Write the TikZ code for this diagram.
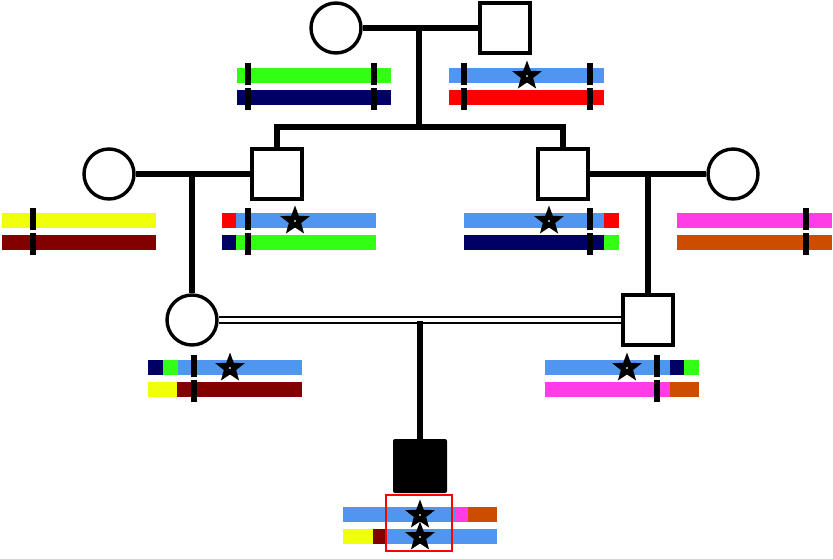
\documentclass[tikz,border=0pt]{standalone}
\usetikzlibrary{shapes.geometric}

\definecolor{cgreen}{RGB}{50,255,20}
\definecolor{cnavy}{RGB}{0,0,100}
\definecolor{cblue}{RGB}{80,150,240}
\definecolor{cred}{RGB}{255,0,0}
\definecolor{cyellow}{RGB}{240,255,10}
\definecolor{cmaroon}{RGB}{130,0,0}
\definecolor{cmagenta}{RGB}{255,60,230}
\definecolor{corange}{RGB}{204,76,0}

% black marker across both bands of a pair
\newcommand{\locus}[2]{%
  \fill (#1-2.6,#2-5) rectangle (#1+2.6,#2+16.5);
  \fill (#1-2.6,#2+20) rectangle (#1+2.6,#2+42);}

\begin{document}
\begin{tikzpicture}[x=1pt,y=-1pt,
    female/.style={circle,draw,line width=3.4pt,minimum size=50pt,inner sep=0pt},
    male/.style={rectangle,draw,line width=3.4pt,minimum size=50pt,inner sep=0pt},
    affected/.style={rectangle,fill=black,rounded corners=2pt,minimum size=54pt,inner sep=0pt},
    kin/.style={line width=5.2pt},
    mut/.style={star,star points=5,star point ratio=2.4,fill=black,minimum size=31pt,inner sep=0pt}]
  \useasboundingbox (0,0) rectangle (833,558);

  % pedigree
  \path (336,28)  node[female] (gm1) {}
        (505,28)  node[male]   (gf1) {}
        (109,174) node[female] (gm2) {}
        (277,174) node[male]   (fa2) {}
        (563,174) node[male]   (fa3) {}
        (733,174) node[female] (gm3) {}
        (192,320) node[female] (mo4) {}
        (648,320) node[male]   (fa4) {}
        (420,466) node[affected] (pro) {};
  \coordinate (m1) at (419,28);
  \coordinate (s1) at (419,127);
  \coordinate (m2) at (192,174);
  \coordinate (m3) at (648,174);
  \coordinate (m4) at (420,321);

  \draw[kin] (gm1) -- (gf1);
  \draw[kin] (m1) -- (s1);
  \draw[kin] (fa2.north) |- (s1) -| (fa3.north);
  \draw[kin] (gm2) -- (fa2);
  \draw[kin] (fa3) -- (gm3);
  \draw[kin] (m2) -- (mo4);
  \draw[kin] (m3) -- (fa4);
  \draw[line width=1.8pt,double,double distance=4pt] (mo4) -- (fa4);
  \draw[kin] (m4) -- (pro);

  % generation I haplotypes
  \fill[cgreen] (237,68) rectangle (391,82.5);
  \fill[cnavy]  (237,90) rectangle (391,104.5);
  \locus{248}{68} \locus{374}{68}
  \fill[cblue] (449,68) rectangle (604,82.5);
  \fill[cred]  (449,90) rectangle (604,104.5);
  \locus{464}{68} \locus{590}{68}
  \node[mut] (st1) at (527,76) {};

  % generation II haplotypes
  \fill[cyellow] (2,213) rectangle (156,227.5);
  \fill[cmaroon] (2,235) rectangle (156,249.5);
  \locus{33}{213}
  \fill[cred]   (222,213) rectangle (236,227.5);
  \fill[cblue]  (236,213) rectangle (376,227.5);
  \fill[cnavy]  (222,235) rectangle (236,249.5);
  \fill[cgreen] (236,235) rectangle (376,249.5);
  \locus{248}{213}
  \node[mut] (st2) at (295,221) {};
  \fill[cblue]  (464,213) rectangle (604,227.5);
  \fill[cred]   (604,213) rectangle (619,227.5);
  \fill[cnavy]  (464,235) rectangle (604,249.5);
  \fill[cgreen] (604,235) rectangle (619,249.5);
  \locus{590}{213}
  \node[mut] (st3) at (549,221) {};
  \fill[cmagenta] (677,213) rectangle (832,227.5);
  \fill[corange]  (677,235) rectangle (832,249.5);
  \locus{806}{213}

  % generation III haplotypes
  \fill[cnavy]   (148,360) rectangle (163,374.5);
  \fill[cgreen]  (163,360) rectangle (178,374.5);
  \fill[cblue]   (178,360) rectangle (302,374.5);
  \fill[cyellow] (148,382) rectangle (177,396.5);
  \fill[cmaroon] (177,382) rectangle (302,396.5);
  \locus{194}{360}
  \node[mut] (st4) at (230,368) {};
  \fill[cblue]    (545,360) rectangle (670,374.5);
  \fill[cnavy]    (670,360) rectangle (684,374.5);
  \fill[cgreen]   (684,360) rectangle (699,374.5);
  \fill[cmagenta] (545,382) rectangle (670,396.5);
  \fill[corange]  (670,382) rectangle (699,396.5);
  \locus{657}{360}
  \node[mut] (st5) at (627,368) {};

  % proband
  \fill[cblue]    (343,507) rectangle (455,521.5);
  \fill[cmagenta] (455,507) rectangle (468,521.5);
  \fill[corange]  (468,507) rectangle (497,521.5);
  \fill[cyellow]  (343,529) rectangle (373,543.5);
  \fill[cmaroon]  (373,529) rectangle (385,543.5);
  \fill[cblue]    (385,529) rectangle (497,543.5);
  \node[mut] (st6) at (420,515) {};
  \node[mut] (st7) at (420,537) {};
  \draw[cred,line width=2.4pt] (386,495) rectangle (452,551);

  % small light centres of the stars
  \foreach \s in {st1,st2,st3,st4,st5,st6,st7}
    \fill[gray!30] (\s.center) circle (1.1pt);
\end{tikzpicture}
\end{document}
